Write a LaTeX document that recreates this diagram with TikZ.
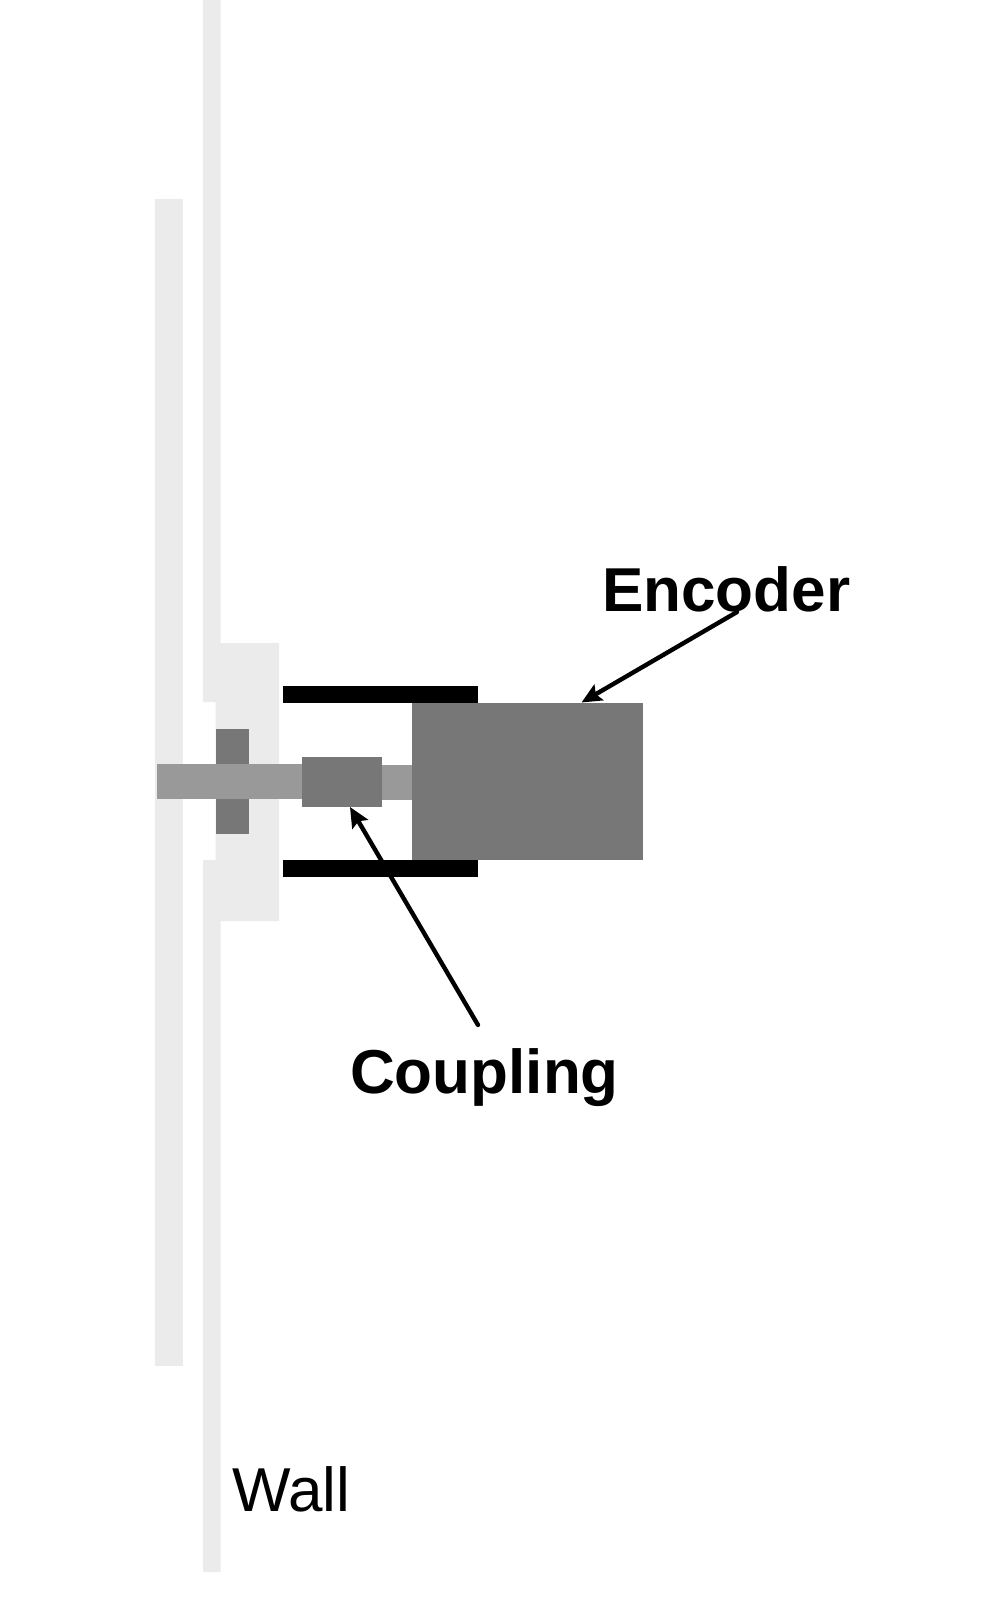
\documentclass[tikz,border=0pt]{standalone}
\usepackage{fontspec}
\setmainfont{Liberation Sans}
\usetikzlibrary{arrows.meta}
\definecolor{lightgr}{HTML}{EBEBEB}
\definecolor{midgr}{HTML}{999999}
\definecolor{darkgr}{HTML}{777777}
\tikzset{
  wallpart/.style={fill=lightgr},
  shaftpart/.style={fill=midgr},
  darkpart/.style={fill=darkgr},
  bracket/.style={fill=black},
  pointer/.style={draw=black,line width=4.4pt,line cap=round,-{Stealth[length=20pt,width=18pt,inset=3.5pt]}},
  boldlabel/.style={inner sep=0pt,anchor=base west,font=\fontsize{62}{70}\selectfont\bfseries},
  pluslabel/.style={inner sep=0pt,anchor=base west,font=\fontsize{62}{70}\selectfont}
}
\begin{document}
\begin{tikzpicture}[x=1pt,y=-1pt]
\useasboundingbox (0,0) rectangle (1000,1604);
\fill[white] (0,0) rectangle (1000,1604);
% outer plate
\fill[wallpart] (155,199) rectangle (183,1366);
% wall with recess and mount
\fill[wallpart] (203,0) -- (220.5,0) -- (220.5,643) -- (279,643) -- (279,921) -- (220.5,921)
  -- (220.5,1572) -- (203,1572) -- (203,860) -- (215.5,860) -- (215.5,702) -- (203,702) -- cycle;
% cross piece
\fill[darkpart] (215.5,729) rectangle (248.5,834);
% shaft
\fill[shaftpart] (157,764) rectangle (310,799);
\fill[shaftpart] (380,765) rectangle (413,800);
% coupling
\fill[darkpart] (301.5,756.5) rectangle (382,806.5);
% brackets
\fill[bracket] (283,685.5) rectangle (478,702.5);
\fill[bracket] (283,859.5) rectangle (478,877);
% encoder
\fill[darkpart] (412,702.5) rectangle (643,859.5);
% labels
\node[boldlabel] (encoder) at (602,611) {Encoder};
\node[boldlabel] (coupling) at (350,1093.5) {Coupling};
\node[pluslabel] (wall) at (232,1511) {Wall};
% connector ends
\coordinate (encfrom) at (737,612);
\coordinate (encto) at (581.5,702.5);
\coordinate (coufrom) at (478,1025);
\coordinate (couto) at (350,807);
\draw[pointer] (encfrom) -- (encto);
\draw[pointer] (coufrom) -- (couto);
\end{tikzpicture}
\end{document}
